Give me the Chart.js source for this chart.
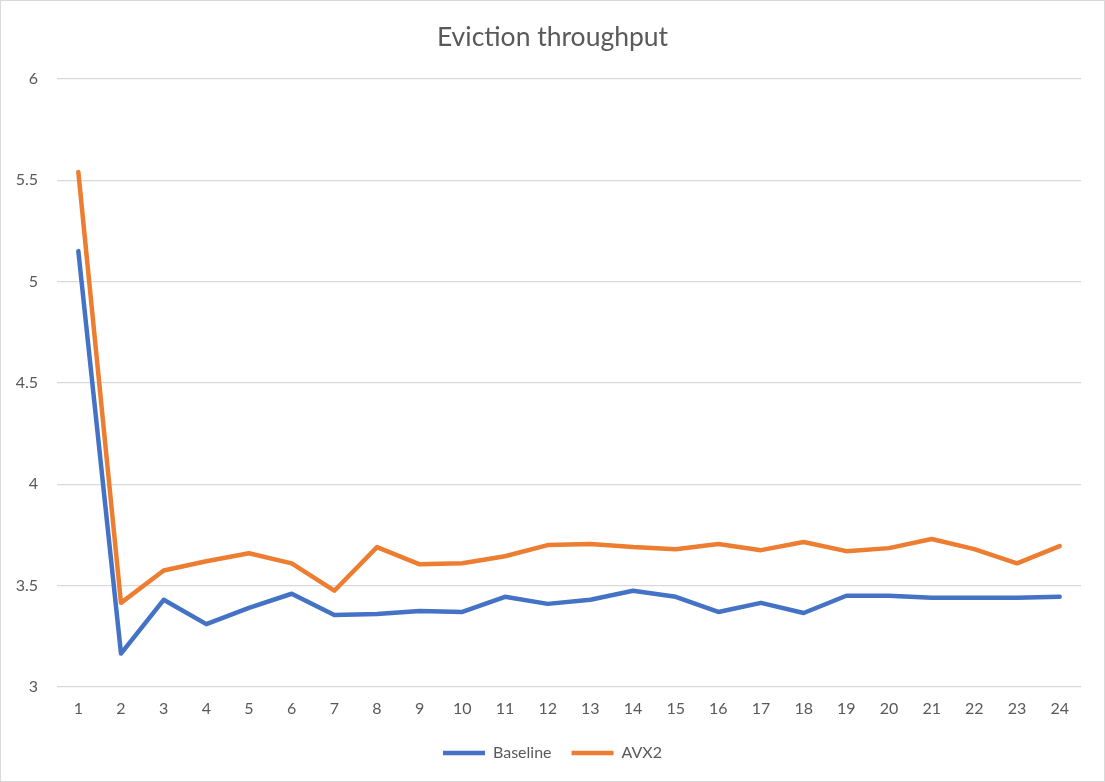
<!DOCTYPE html>
<html>
<head>
<meta charset="utf-8">
<title>Eviction throughput</title>
<script src="https://cdn.jsdelivr.net/npm/chart.js@4.4.1/dist/chart.umd.min.js"></script>
<style>
    html, body {
        margin: 0;
        padding: 0;
        background: #ffffff;
    }
    .frame {
        width: 1105px;
        height: 782px;
        box-sizing: border-box;
        border: 1px solid #d9d9d9;
    }
    canvas {
        display: block;
    }
</style>
</head>
<body>
<div class="frame">
    <canvas id="evictionChart" width="1103" height="780"></canvas>
</div>
<script>
const categories = ['1', '2', '3', '4', '5', '6', '7', '8', '9', '10', '11', '12',
    '13', '14', '15', '16', '17', '18', '19', '20', '21', '22', '23', '24'];

const baseline = [5.15, 3.165, 3.43, 3.31, 3.39, 3.46, 3.355, 3.36, 3.375, 3.37, 3.445, 3.41,
    3.43, 3.475, 3.445, 3.37, 3.415, 3.365, 3.45, 3.45, 3.44, 3.44, 3.44, 3.445];

const avx2 = [5.54, 3.415, 3.575, 3.62, 3.66, 3.61, 3.475, 3.69, 3.605, 3.61, 3.645, 3.70,
    3.705, 3.69, 3.68, 3.705, 3.675, 3.715, 3.67, 3.685, 3.73, 3.68, 3.61, 3.695];

const yTicks = [3, 3.5, 4, 4.5, 5, 5.5, 6];

const textColor = '#595959';
const gridColor = '#d9d9d9';
const fontFamily = 'Lato, "Open Sans", sans-serif';

const ctx = document.getElementById('evictionChart').getContext('2d');

new Chart(ctx, {
    type: 'line',
    data: {
        labels: categories,
        datasets: [{
            label: 'Baseline',
            data: baseline,
            borderColor: '#4472C4',
            backgroundColor: '#4472C4',
            borderWidth: 4.5,
            borderCapStyle: 'round',
            borderJoinStyle: 'round',
            pointRadius: 0,
            tension: 0
        }, {
            label: 'AVX2',
            data: avx2,
            borderColor: '#ED7D31',
            backgroundColor: '#ED7D31',
            borderWidth: 4.5,
            borderCapStyle: 'round',
            borderJoinStyle: 'round',
            pointRadius: 0,
            tension: 0
        }]
    },
    options: {
        responsive: false,
        animation: false,
        layout: {
            padding: { top: 0, right: 0, bottom: 10, left: 0 }
        },
        plugins: {
            title: {
                display: true,
                text: 'Eviction throughput',
                color: textColor,
                font: { family: fontFamily, size: 26.5, weight: 'normal' },
                padding: { top: 21, bottom: 25 }
            },
            legend: {
                display: true,
                position: 'bottom',
                labels: {
                    color: textColor,
                    font: { family: fontFamily, size: 16 },
                    usePointStyle: true,
                    pointStyle: 'line',
                    pointStyleWidth: 42,
                    padding: 20
                }
            },
            tooltip: { enabled: false }
        },
        scales: {
            x: {
                offset: true,
                grid: { display: false },
                border: { display: false },
                ticks: {
                    color: textColor,
                    font: { family: fontFamily, size: 16 },
                    padding: 4,
                    maxRotation: 0
                },
                afterFit: scale => { scale.height = 38; }
            },
            y: {
                min: 3,
                max: 6,
                afterBuildTicks: scale => {
                    scale.ticks = yTicks.map(v => ({ value: v }));
                },
                grid: { color: gridColor, lineWidth: 1.3, drawTicks: false },
                border: { display: false },
                ticks: {
                    color: textColor,
                    font: { family: fontFamily, size: 16 },
                    padding: 19,
                    callback: value => String(value)
                },
                afterFit: scale => { scale.width = 56; }
            },
            // empty right-hand spacer so the plot keeps its right margin
            // while title and legend stay centred on the full width
            spacer: {
                type: 'linear',
                position: 'right',
                grid: { display: false },
                border: { display: false },
                ticks: { display: false },
                afterFit: scale => { scale.width = 23; }
            }
        }
    }
});
</script>
</body>
</html>
